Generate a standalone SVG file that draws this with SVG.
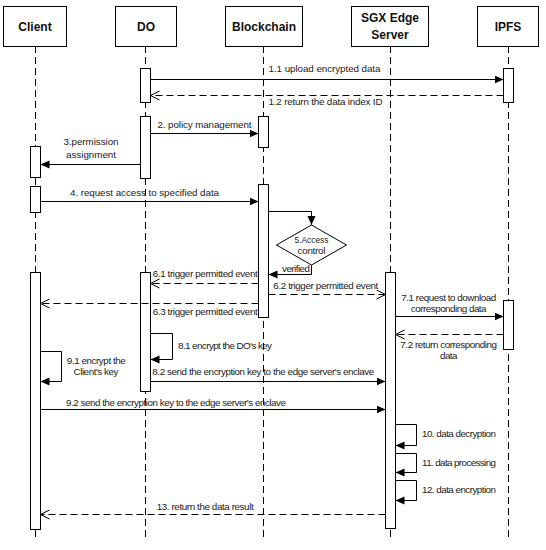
<svg xmlns="http://www.w3.org/2000/svg" width="546" height="550" viewBox="0 0 546 550">
<style>
.hdr{fill:#fff;stroke:#000;stroke-width:1}
.life{stroke:#000;stroke-width:1;stroke-dasharray:7 4;fill:none}
.act{fill:#fff;stroke:#000;stroke-width:1}
.msg{stroke:#000;stroke-width:1;fill:none}
.ret{stroke-dasharray:7 4}
.h{font-family:"Liberation Sans",Arial,sans-serif;font-size:12px;font-weight:bold;fill:#111;text-anchor:middle}
.t{font-family:"Liberation Sans",Arial,sans-serif;font-size:9.8px;fill:#1a1a1a}
.c{text-anchor:middle}
.dia{fill:#fff;stroke:#000;stroke-width:1}
</style>
<defs>
<marker id="fa" markerWidth="10" markerHeight="9" refX="9" refY="4" orient="auto" markerUnits="userSpaceOnUse"><path d="M0,0 L9,4 L0,8 z" fill="#000" stroke="none"/></marker>
<marker id="oa" markerWidth="12" markerHeight="12" refX="10" refY="5" orient="auto" markerUnits="userSpaceOnUse"><path d="M1,0.5 L10,5 L1,9.5" fill="none" stroke="#000" stroke-width="1" stroke-dasharray="none"/></marker>
</defs>
<rect width="546" height="550" fill="#fff"/>

<g id="client">
<line class="life" x1="35.5" y1="46" x2="35.5" y2="538"/>
<rect class="hdr" x="3.5" y="6.5" width="63" height="40"/>
<text class="h" x="35" y="31">Client</text>
<rect class="act" x="30.5" y="146.5" width="10" height="31"/>
<rect class="act" x="30.5" y="186.5" width="10" height="26"/>
<rect class="act" x="30.5" y="272.5" width="10" height="257"/>
</g>
<g id="do">
<line class="life" x1="145.5" y1="46" x2="145.5" y2="538"/>
<rect class="hdr" x="115.5" y="6.5" width="61" height="40"/>
<text class="h" x="146" y="31">DO</text>
<rect class="act" x="140.5" y="68.5" width="10" height="34"/>
<rect class="act" x="140.5" y="116.5" width="10" height="62"/>
<rect class="act" x="140.5" y="272.5" width="10" height="119"/>
</g>
<g id="blockchain">
<line class="life" x1="263.5" y1="46" x2="263.5" y2="538"/>
<rect class="hdr" x="225.5" y="6.5" width="77" height="40"/>
<text class="h" x="264" y="31">Blockchain</text>
<rect class="act" x="258.5" y="116.5" width="10" height="31"/>
<rect class="act" x="258.5" y="184.5" width="10" height="133"/>
</g>
<g id="sgx">
<line class="life" x1="390.5" y1="46" x2="390.5" y2="538"/>
<rect class="hdr" x="351.5" y="6.5" width="77" height="40"/>
<text class="h" x="390" y="22">SGX Edge</text>
<text class="h" x="390" y="38.5">Server</text>
<rect class="act" x="385.5" y="272.5" width="10" height="256"/>
</g>
<g id="ipfs">
<line class="life" x1="508.5" y1="46" x2="508.5" y2="538"/>
<rect class="hdr" x="477.5" y="6.5" width="61" height="40"/>
<text class="h" x="508" y="31">IPFS</text>
<rect class="act" x="503.5" y="68.5" width="10" height="34"/>
<rect class="act" x="503.5" y="300.5" width="10" height="49"/>
</g>
<g id="access-control">
<polygon class="dia" points="311.5,225 346.5,245 311.5,265 276.5,245"/>
<text class="t c" x="311.5" y="243" textLength="34" lengthAdjust="spacingAndGlyphs">5.Access</text>
<text class="t c" x="311.5" y="254" textLength="28">control</text>
</g>

<g id="connectors">
<line class="msg" x1="150.5" y1="79.5" x2="503.5" y2="79.5" marker-end="url(#fa)"/>
<line class="msg ret" x1="503.5" y1="95.5" x2="150.5" y2="95.5" marker-end="url(#oa)"/>
<line class="msg" x1="150.5" y1="133.5" x2="258.5" y2="133.5" marker-end="url(#fa)"/>
<line class="msg" x1="140.5" y1="164.5" x2="40.5" y2="164.5" marker-end="url(#fa)"/>
<line class="msg" x1="40.5" y1="201.5" x2="258.5" y2="201.5" marker-end="url(#fa)"/>
<path class="msg" d="M268.5,211.5 H311.5 V225" marker-end="url(#fa)"/>
<path class="msg" d="M311.5,265 V274.5 H268.5" marker-end="url(#fa)"/>
<line class="msg ret" x1="258.5" y1="283.5" x2="150.5" y2="283.5" marker-end="url(#oa)"/>
<line class="msg ret" x1="268.5" y1="294.5" x2="385.5" y2="294.5" marker-end="url(#oa)"/>
<line class="msg ret" x1="258.5" y1="303.5" x2="40.5" y2="303.5" marker-end="url(#oa)"/>
<line class="msg" x1="395.5" y1="316.5" x2="503.5" y2="316.5" marker-end="url(#fa)"/>
<line class="msg ret" x1="503.5" y1="334.5" x2="395.5" y2="334.5" marker-end="url(#oa)"/>
<path class="msg" d="M150.5,333.5 H172.5 V359.5 H150.5" marker-end="url(#fa)"/>
<path class="msg" d="M40.5,351.5 H61.5 V381.5 H40.5" marker-end="url(#fa)"/>
<line class="msg" x1="150.5" y1="381.5" x2="385.5" y2="381.5" marker-end="url(#fa)"/>
<line class="msg" x1="40.5" y1="409.5" x2="385.5" y2="409.5" marker-end="url(#fa)"/>
<path class="msg" d="M395.5,424.5 H416.5 V445.5 H395.5" marker-end="url(#fa)"/>
<path class="msg" d="M395.5,453.5 H416.5 V472.5 H395.5" marker-end="url(#fa)"/>
<path class="msg" d="M395.5,480.5 H416.5 V500.5 H395.5" marker-end="url(#fa)"/>
<line class="msg ret" x1="385.5" y1="514.5" x2="40.5" y2="514.5" marker-end="url(#oa)"/>
</g>

<g id="labels">
<text class="t" x="268.5" y="72" textLength="112">1.1 upload encrypted data</text>
<text class="t" x="268.5" y="105" textLength="114">1.2 return the data index ID</text>
<text class="t" x="157.5" y="128" textLength="94">2. policy management</text>
<text class="t c" x="91" y="145" textLength="55">3.permission</text>
<text class="t c" x="91" y="158.3" textLength="50">assignment</text>
<text class="t" x="70" y="195.7" textLength="149">4. request access to specified data</text>
<text class="t" x="282" y="271.7" textLength="28">verified</text>
<text class="t" x="152.7" y="276.7" textLength="105">6.1 trigger permitted event</text>
<text class="t" x="273.3" y="289.3" textLength="105">6.2 trigger permitted event</text>
<text class="t" x="152.7" y="315" textLength="105">6.3 trigger permitted event</text>
<text class="t c" x="448.7" y="300.7" textLength="95">7.1 request to download</text>
<text class="t c" x="448.7" y="312.3" textLength="75.7">corresponding data</text>
<text class="t c" x="448.7" y="348.3" textLength="96.7">7.2 return corresponding</text>
<text class="t c" x="448.7" y="359.3" textLength="17.3">data</text>
<text class="t" x="178" y="349.3" textLength="94">8.1 encrypt the DO's key</text>
<text class="t c" x="96.3" y="364.3" textLength="59">9.1 encrypt the</text>
<text class="t c" x="96" y="375" textLength="45">Client's key</text>
<text class="t" x="152.3" y="375" textLength="222">8.2 send the encryption key to the edge server's enclave</text>
<text class="t" x="66" y="405.5" textLength="220">9.2 send the encryption key to the edge server's enclave</text>
<text class="t" x="422" y="436.7" textLength="74">10. data decryption</text>
<text class="t" x="422" y="465.7" textLength="74">11. data processing</text>
<text class="t" x="422" y="492.7" textLength="74">12. data encryption</text>
<text class="t" x="156.7" y="510" textLength="97">13. return the data result</text>
</g>
</svg>
